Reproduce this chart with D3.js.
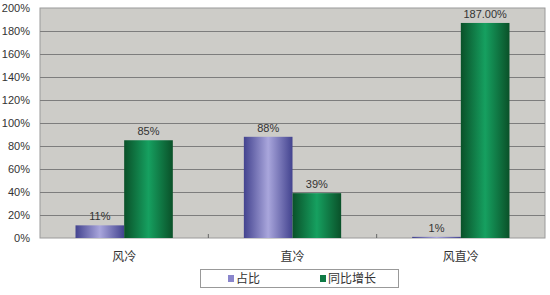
<html lang='en'>
    <head>
        <meta charset='utf-8'>
        <title>风冷 / 直冷</title>
        <script src="https://d3js.org/d3.v7.min.js"></script>
        <style>
            body { margin: 0; background: #fff; }
            text { font-family: "Liberation Sans", Arial, "Noto Sans CJK SC", sans-serif; fill: #333; }
        </style>
    </head>
    <body>
        <script>
            // data
            var categories = ['风冷', '直冷', '风直冷'];
            var seriesNames = ['占比', '同比增长'];
            var shareValues = [11, 88, 1];
            var growthValues = [85, 39, 187];
            var valueLabels = [['11%', '88%', '1%'], ['85%', '39%', '187.00%']];
            var yTicks = [0, 20, 40, 60, 80, 100, 120, 140, 160, 180, 200];

            var width = 550, height = 295;
            var plotLeft = 40, plotRight = 545, plotTop = 8, plotBottom = 238;

            var svg = d3.select('body').append('svg')
                        .attr('width', width)
                        .attr('height', height);

            var defs = svg.append('defs');
            function cylinder(id, dark, light) {
                var g = defs.append('linearGradient').attr('id', id)
                            .attr('x1', '0%').attr('x2', '100%').attr('y1', '0%').attr('y2', '0%');
                g.append('stop').attr('offset', '0%').attr('stop-color', dark);
                g.append('stop').attr('offset', '50%').attr('stop-color', light);
                g.append('stop').attr('offset', '100%').attr('stop-color', dark);
            }
            cylinder('gPurple', '#43438f', '#a9a6dc');
            cylinder('gGreen', '#0a5129', '#16a060');
            var fills = ['url(#gPurple)', 'url(#gGreen)'];
            var swatch = ['#8a86cc', '#0f7a45'];

            var x = d3.scaleBand().domain(categories).range([plotLeft, plotRight]);
            var x1 = d3.scaleBand().domain(seriesNames).range([0, x.bandwidth()]).paddingOuter(0.73).paddingInner(0);
            var y = d3.scaleLinear().domain([0, 200]).range([plotBottom, plotTop]);

            // plot area
            svg.append('rect')
               .attr('x', plotLeft).attr('y', plotTop)
               .attr('width', plotRight - plotLeft).attr('height', plotBottom - plotTop)
               .attr('fill', '#cdccc8')
               .attr('stroke', '#9a9a9a');

            // gridlines
            svg.selectAll('.grid')
               .data(yTicks.filter(function(d) { return d > 0 && d < 200; }))
               .enter().append('line')
               .attr('x1', plotLeft).attr('x2', plotRight)
               .attr('y1', function(d) { return y(d) + 0.5; })
               .attr('y2', function(d) { return y(d) + 0.5; })
               .attr('stroke', '#7d7d7d');

            // y axis labels
            svg.selectAll('.ytick')
               .data(yTicks)
               .enter().append('text')
               .attr('x', 30)
               .attr('y', function(d) { return y(d) + 4; })
               .attr('text-anchor', 'end')
               .style('font-size', '11px')
               .text(function(d) { return d + '%'; });

            // category separator ticks
            svg.selectAll('.sep')
               .data(categories.slice(1))
               .enter().append('line')
               .attr('x1', function(d) { return x(d); })
               .attr('x2', function(d) { return x(d); })
               .attr('y1', plotBottom - 4).attr('y2', plotBottom)
               .attr('stroke', '#666');

            // bars
            var series = [shareValues, growthValues];
            series.forEach(function(vals, s) {
                svg.selectAll('.bar' + s)
                   .data(vals)
                   .enter().append('rect')
                   .attr('x', function(d, i) { return x(categories[i]) + x1(seriesNames[s]); })
                   .attr('y', function(d) { return y(d); })
                   .attr('width', x1.bandwidth())
                   .attr('height', function(d) { return plotBottom - y(d); })
                   .attr('fill', fills[s]);

                svg.selectAll('.lbl' + s)
                   .data(vals)
                   .enter().append('text')
                   .attr('x', function(d, i) { return x(categories[i]) + x1(seriesNames[s]) + x1.bandwidth() / 2; })
                   .attr('y', function(d) { return y(d) - 5; })
                   .attr('text-anchor', 'middle')
                   .style('font-size', '11px')
                   .text(function(d, i) { return valueLabels[s][i]; });
            });

            // x axis labels
            svg.selectAll('.xlab')
               .data(categories)
               .enter().append('text')
               .attr('x', function(d) { return x(d) + x.bandwidth() / 2; })
               .attr('y', 261)
               .attr('text-anchor', 'middle')
               .style('font-size', '12px')
               .text(function(d) { return d; });

            // legend
            var legend = svg.append('g');
            legend.append('rect')
                  .attr('x', 200.5).attr('y', 269.5)
                  .attr('width', 198).attr('height', 18)
                  .attr('fill', '#fff').attr('stroke', '#999');
            var legX = [228, 320];
            seriesNames.forEach(function(name, i) {
                legend.append('rect')
                      .attr('x', legX[i]).attr('y', 275)
                      .attr('width', 6).attr('height', 7)
                      .attr('fill', swatch[i]);
                legend.append('text')
                      .attr('x', legX[i] + 8).attr('y', 283)
                      .style('font-size', '12px')
                      .text(name);
            });
        </script>
    </body>
</html>
